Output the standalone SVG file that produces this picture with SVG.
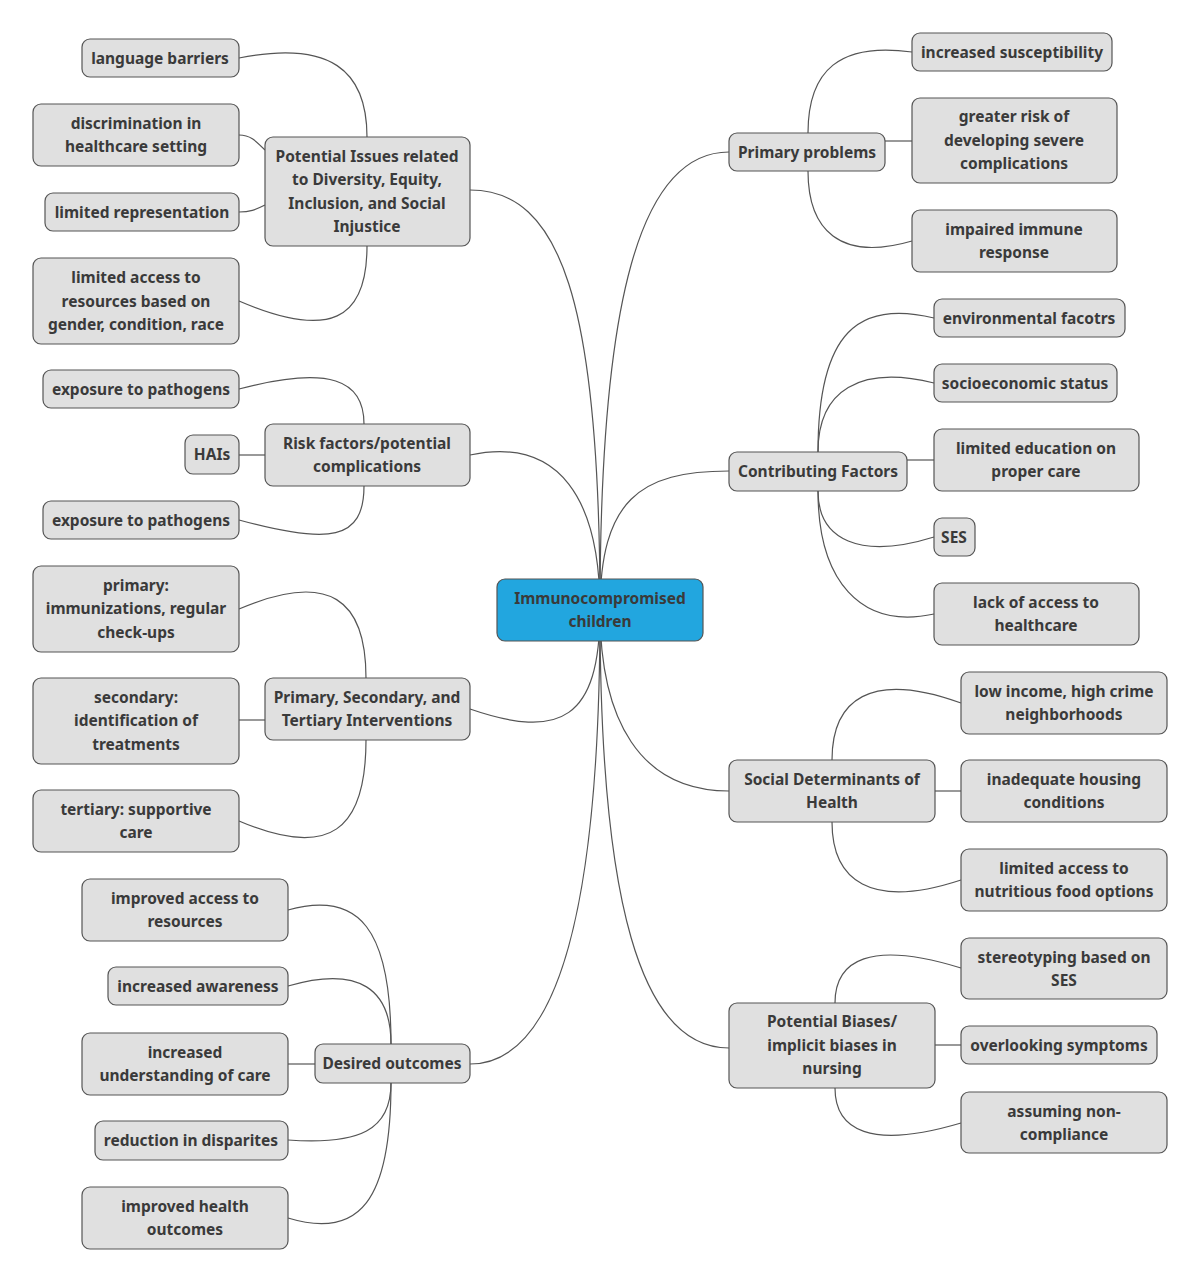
<svg xmlns="http://www.w3.org/2000/svg" width="1200" height="1282" viewBox="0 0 1200 1282">
<style>
.n rect{fill:#e0e0e0;stroke:#555;stroke-width:1.2}
.c rect{fill:#22a6df;stroke:#555;stroke-width:1.2}
text{font-family:"Noto Sans","Open Sans",sans-serif;font-weight:bold;font-size:15.5px;fill:#3a3a3a;text-anchor:middle}
#conn path{fill:none;stroke:#555;stroke-width:1.2}
</style>
<rect width="1200" height="1282" fill="#fff"/>
<g id="conn">
<path d="M600,610 C600,300 640,152 729,152"/>
<path d="M600,610 C600,500 640,471 729,471"/>
<path d="M600,610 C600,720 640,791 729,791"/>
<path d="M600,610 C600,900 640,1048 729,1048"/>
<path d="M600,610 C600,300 560,190 470,190"/>
<path d="M600,610 C600,500 560,436 470,455"/>
<path d="M600,610 C600,720 560,740 470,709"/>
<path d="M600,610 C600,900 560,1064 470,1064"/>
<path d="M808,133 C808,70 840,42 912,52"/>
<path d="M885,141 L912,141"/>
<path d="M808,171 C808,230 840,262 912,241"/>
<path d="M818,452 C818,330 860,300 934,318"/>
<path d="M818,452 C818,390 860,365 934,383"/>
<path d="M907,460 L934,460"/>
<path d="M818,491 C818,540 860,560 934,537"/>
<path d="M818,491 C818,580 860,630 934,614"/>
<path d="M832,760 C832,700 870,670 961,703"/>
<path d="M935,791 L961,791"/>
<path d="M832,822 C832,880 870,910 961,880"/>
<path d="M835,1003 C835,960 870,940 961,968"/>
<path d="M935,1045 L961,1045"/>
<path d="M835,1088 C835,1130 870,1150 961,1123"/>
<path d="M367,137 C367,70 330,40 239,58"/>
<path d="M265,150 C255,140 250,135 239,135"/>
<path d="M265,205 C255,210 250,212 239,212"/>
<path d="M367,246 C367,320 330,340 239,301"/>
<path d="M364,424 C364,380 330,365 239,389"/>
<path d="M265,455 L239,455"/>
<path d="M364,486 C364,540 330,545 239,520"/>
<path d="M366,678 C366,600 330,570 239,609"/>
<path d="M265,720 L239,720"/>
<path d="M366,740 C366,830 330,860 239,821"/>
<path d="M391,1044 C391,930 360,890 288,910"/>
<path d="M391,1044 C391,990 360,965 288,986"/>
<path d="M315,1064 L288,1064"/>
<path d="M391,1083 C391,1130 360,1145 288,1140"/>
<path d="M391,1083 C391,1200 360,1240 288,1218"/>
</g>
<g id="center" class="c"><rect x="497" y="579" width="206" height="62" rx="8"/><text x="600" y="604">Immunocompromised</text><text x="600" y="627">children</text></g>
<g id="primary-problems" class="n"><rect x="729" y="133" width="156" height="38" rx="8"/><text x="807" y="158">Primary problems</text></g>
<g id="r1" class="n"><rect x="912" y="33" width="200" height="38" rx="8"/><text x="1012" y="58">increased susceptibility</text></g>
<g id="r2" class="n"><rect x="912" y="98" width="205" height="85" rx="8"/><text x="1014" y="122">greater risk of</text><text x="1014" y="146">developing severe</text><text x="1014" y="169">complications</text></g>
<g id="r3" class="n"><rect x="912" y="210" width="205" height="62" rx="8"/><text x="1014" y="235">impaired immune</text><text x="1014" y="258">response</text></g>
<g id="contributing" class="n"><rect x="729" y="452" width="178" height="39" rx="8"/><text x="818" y="477">Contributing Factors</text></g>
<g id="r4" class="n"><rect x="934" y="299" width="191" height="38" rx="8"/><text x="1029" y="324">environmental facotrs</text></g>
<g id="r5" class="n"><rect x="934" y="364" width="183" height="38" rx="8"/><text x="1025" y="389">socioeconomic status</text></g>
<g id="r6" class="n"><rect x="934" y="429" width="205" height="62" rx="8"/><text x="1036" y="454">limited education on</text><text x="1036" y="477">proper care</text></g>
<g id="r7" class="n"><rect x="934" y="518" width="41" height="38" rx="8"/><text x="954" y="543">SES</text></g>
<g id="r8" class="n"><rect x="934" y="583" width="205" height="62" rx="8"/><text x="1036" y="608">lack of access to</text><text x="1036" y="631">healthcare</text></g>
<g id="sdoh" class="n"><rect x="729" y="760" width="206" height="62" rx="8"/><text x="832" y="785">Social Determinants of</text><text x="832" y="808">Health</text></g>
<g id="r9" class="n"><rect x="961" y="672" width="206" height="62" rx="8"/><text x="1064" y="697">low income, high crime</text><text x="1064" y="720">neighborhoods</text></g>
<g id="r10" class="n"><rect x="961" y="760" width="206" height="62" rx="8"/><text x="1064" y="785">inadequate housing</text><text x="1064" y="808">conditions</text></g>
<g id="r11" class="n"><rect x="961" y="849" width="206" height="62" rx="8"/><text x="1064" y="874">limited access to</text><text x="1064" y="897">nutritious food options</text></g>
<g id="biases" class="n"><rect x="729" y="1003" width="206" height="85" rx="8"/><text x="832" y="1027">Potential Biases/</text><text x="832" y="1051">implicit biases in</text><text x="832" y="1074">nursing</text></g>
<g id="r12" class="n"><rect x="961" y="938" width="206" height="61" rx="8"/><text x="1064" y="963">stereotyping based on</text><text x="1064" y="986">SES</text></g>
<g id="r13" class="n"><rect x="961" y="1026" width="196" height="38" rx="8"/><text x="1059" y="1051">overlooking symptoms</text></g>
<g id="r14" class="n"><rect x="961" y="1092" width="206" height="61" rx="8"/><text x="1064" y="1117">assuming non-</text><text x="1064" y="1140">compliance</text></g>
<g id="dei" class="n"><rect x="265" y="137" width="205" height="109" rx="8"/><text x="367" y="162">Potential Issues related</text><text x="367" y="185">to Diversity, Equity,</text><text x="367" y="209">Inclusion, and Social</text><text x="367" y="232">Injustice</text></g>
<g id="l1" class="n"><rect x="82" y="39" width="157" height="38" rx="8"/><text x="160" y="64">language barriers</text></g>
<g id="l2" class="n"><rect x="33" y="104" width="206" height="62" rx="8"/><text x="136" y="129">discrimination in</text><text x="136" y="152">healthcare setting</text></g>
<g id="l3" class="n"><rect x="45" y="193" width="194" height="38" rx="8"/><text x="142" y="218">limited representation</text></g>
<g id="l4" class="n"><rect x="33" y="258" width="206" height="86" rx="8"/><text x="136" y="283">limited access to</text><text x="136" y="307">resources based on</text><text x="136" y="330">gender, condition, race</text></g>
<g id="risk" class="n"><rect x="265" y="424" width="205" height="62" rx="8"/><text x="367" y="449">Risk factors/potential</text><text x="367" y="472">complications</text></g>
<g id="l5" class="n"><rect x="43" y="370" width="196" height="38" rx="8"/><text x="141" y="395">exposure to pathogens</text></g>
<g id="l6" class="n"><rect x="185" y="435" width="54" height="39" rx="8"/><text x="212" y="460">HAIs</text></g>
<g id="l7" class="n"><rect x="43" y="501" width="196" height="38" rx="8"/><text x="141" y="526">exposure to pathogens</text></g>
<g id="interventions" class="n"><rect x="265" y="678" width="205" height="62" rx="8"/><text x="367" y="703">Primary, Secondary, and</text><text x="367" y="726">Tertiary Interventions</text></g>
<g id="l8" class="n"><rect x="33" y="566" width="206" height="86" rx="8"/><text x="136" y="591">primary:</text><text x="136" y="614">immunizations, regular</text><text x="136" y="638">check-ups</text></g>
<g id="l9" class="n"><rect x="33" y="678" width="206" height="86" rx="8"/><text x="136" y="703">secondary:</text><text x="136" y="726">identification of</text><text x="136" y="750">treatments</text></g>
<g id="l10" class="n"><rect x="33" y="790" width="206" height="62" rx="8"/><text x="136" y="815">tertiary: supportive</text><text x="136" y="838">care</text></g>
<g id="outcomes" class="n"><rect x="315" y="1044" width="155" height="39" rx="8"/><text x="392" y="1069">Desired outcomes</text></g>
<g id="l11" class="n"><rect x="82" y="879" width="206" height="62" rx="8"/><text x="185" y="904">improved access to</text><text x="185" y="927">resources</text></g>
<g id="l12" class="n"><rect x="108" y="967" width="180" height="38" rx="8"/><text x="198" y="992">increased awareness</text></g>
<g id="l13" class="n"><rect x="82" y="1033" width="206" height="62" rx="8"/><text x="185" y="1058">increased</text><text x="185" y="1081">understanding of care</text></g>
<g id="l14" class="n"><rect x="95" y="1121" width="193" height="39" rx="8"/><text x="191" y="1146">reduction in disparites</text></g>
<g id="l15" class="n"><rect x="82" y="1187" width="206" height="62" rx="8"/><text x="185" y="1212">improved health</text><text x="185" y="1235">outcomes</text></g>
</svg>
